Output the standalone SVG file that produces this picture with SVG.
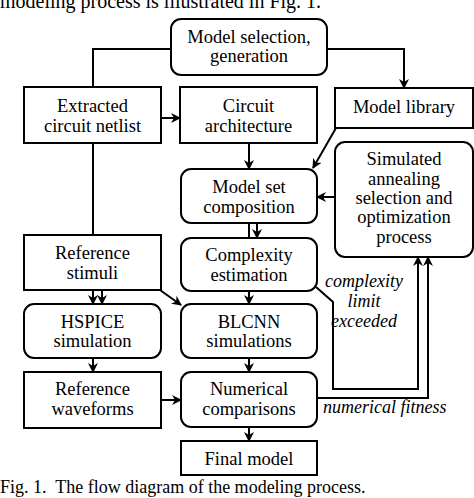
<svg xmlns="http://www.w3.org/2000/svg" width="474" height="498" viewBox="0 0 474 498">
<style>
.b{fill:#fff;stroke:#000;stroke-width:2}
.t{font-family:"Liberation Serif","Times New Roman",serif;font-size:18.5px;text-anchor:middle;fill:#000}
.i{font-family:"Liberation Serif","Times New Roman",serif;font-size:18px;font-style:italic;fill:#000}
.c{fill:none;stroke:#000;stroke-width:2}
.a{marker-end:url(#ah)}
</style>
<defs>
<marker id="ah" viewBox="0 0 10 10" refX="9" refY="5" markerWidth="5" markerHeight="5" orient="auto" markerUnits="strokeWidth">
<path d="M0,0 L10,5 L0,10 L3,5 z" fill="#000"/>
</marker>
</defs>
<rect width="474" height="498" fill="#fff"/>
<text class="t" x="0" y="8" style="text-anchor:start;font-size:20px">modeling process is illustrated in Fig. 1.</text>
<g id="connectors">
<path class="c" d="M171,49 H93 V87"/>
<path class="c a" d="M327,49 H404 V88"/>
<path class="c a" d="M161,118 H180"/>
<path class="c" d="M93,143 V235"/>
<path class="c a" d="M249,143 V169"/>
<path class="c a" d="M336,128 L313,168"/>
<path class="c a" d="M335,197 H317"/>
<path class="c" d="M249,223 V240"/>
<path class="c a" d="M257,223 V238"/>
<path class="c a" d="M93,290 V304"/>
<path class="c a" d="M102,290 V304"/>
<path class="c a" d="M160,290 L181,305"/>
<path class="c a" d="M249,291 V304"/>
<path class="c a" d="M93,358 V372"/>
<path class="c a" d="M249,358 V372"/>
<path class="c a" d="M161,400 H181"/>
<path class="c a" d="M249,427 V441"/>
<path class="c a" d="M316,287 L333,302 V389 H418 V257"/>
<path class="c a" d="M317,398 H428 V257"/>
</g>
<g id="model-selection"><rect class="b" x="171" y="19" width="156" height="56" rx="10"/><text class="t" x="249" y="43">Model selection,</text><text class="t" x="249" y="62">generation</text></g>
<g id="extracted"><rect class="b" x="24" y="87" width="137" height="56"/><text class="t" x="92.5" y="112">Extracted</text><text class="t" x="92.5" y="132">circuit netlist</text></g>
<g id="circuit-architecture"><rect class="b" x="180" y="87" width="137" height="56"/><text class="t" x="248.5" y="112">Circuit</text><text class="t" x="248.5" y="132">architecture</text></g>
<g id="model-library"><rect class="b" x="335" y="88" width="138" height="40"/><text class="t" x="404" y="113">Model library</text></g>
<g id="simulated-annealing"><rect class="b" x="335" y="142" width="138" height="115" rx="10"/><text class="t" x="404" y="165">Simulated</text><text class="t" x="404" y="185">annealing</text><text class="t" x="404" y="204">selection and</text><text class="t" x="404" y="223">optimization</text><text class="t" x="404" y="243">process</text></g>
<g id="model-set"><rect class="b" x="181" y="169" width="136" height="54" rx="10"/><text class="t" x="249" y="193">Model set</text><text class="t" x="249" y="213">composition</text></g>
<g id="complexity"><rect class="b" x="181" y="238" width="136" height="53" rx="10"/><text class="t" x="249" y="261">Complexity</text><text class="t" x="249" y="281">estimation</text></g>
<g id="reference-stimuli"><rect class="b" x="24" y="235" width="137" height="55"/><text class="t" x="92.5" y="259">Reference</text><text class="t" x="92.5" y="279">stimuli</text></g>
<g id="hspice"><rect class="b" x="24" y="304" width="137" height="54" rx="10"/><text class="t" x="92.5" y="328">HSPICE</text><text class="t" x="92.5" y="347">simulation</text></g>
<g id="blcnn"><rect class="b" x="181" y="304" width="136" height="54" rx="10"/><text class="t" x="249" y="328">BLCNN</text><text class="t" x="249" y="347">simulations</text></g>
<g id="reference-waveforms"><rect class="b" x="24" y="372" width="137" height="56"/><text class="t" x="92.5" y="395">Reference</text><text class="t" x="92.5" y="415">waveforms</text></g>
<g id="numerical-comparisons"><rect class="b" x="181" y="372" width="136" height="55" rx="10"/><text class="t" x="249" y="395">Numerical</text><text class="t" x="249" y="415">comparisons</text></g>
<g id="final-model"><rect class="b" x="181" y="441" width="136" height="34"/><text class="t" x="249" y="465">Final model</text></g>
<text class="i" x="364" y="287" text-anchor="middle">complexity</text>
<text class="i" x="364" y="307" text-anchor="middle">limit</text>
<text class="i" x="364" y="327" text-anchor="middle">exceeded</text>
<text class="i" x="323" y="413">numerical fitness</text>
<text class="t" x="0" y="493" style="text-anchor:start;font-size:18px" xml:space="preserve">Fig. 1.  The flow diagram of the modeling process.</text>
</svg>
